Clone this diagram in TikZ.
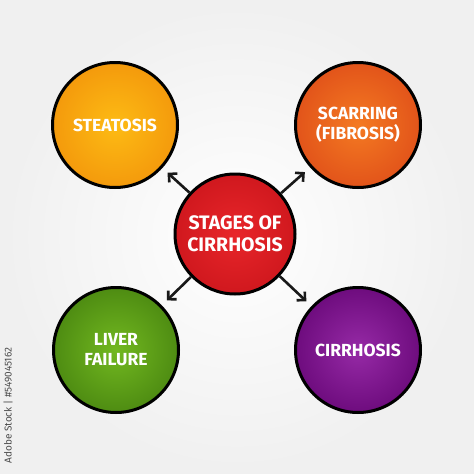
\documentclass[tikz,border=0pt]{standalone}
\usepackage{fontspec}
\setmainfont{Fira Sans}
\usepackage{tikz}
\usetikzlibrary{arrows.meta}
\definecolor{steatin}{HTML}{FDBB14}
\definecolor{steatout}{HTML}{F49A0C}
\definecolor{scarin}{HTML}{F47A22}
\definecolor{scarout}{HTML}{E2541A}
\definecolor{ctrin}{HTML}{E8262A}
\definecolor{ctrout}{HTML}{D0181E}
\definecolor{failin}{HTML}{72B820}
\definecolor{failout}{HTML}{4E8C12}
\definecolor{cirrin}{HTML}{962AA6}
\definecolor{cirrout}{HTML}{6E0C7E}
\tikzstyle{stage}=[circle,draw=black,line width=3pt,inner sep=0pt,align=center,text=white,font=\bfseries\fontsize{17.5}{20}\selectfont]
\tikzstyle{edge}=[draw,line width=2.6pt,black!90,-{Straight Barb[length=6pt,width=12pt]},shorten >=7pt]

\begin{document}
\begin{tikzpicture}[x=1pt,y=-1pt]

 \useasboundingbox (0,0) rectangle (474,474);
 \shade[inner color=white, outer color=black!6] (0,0) rectangle (474,474);

 % center
 \node[stage,minimum size=120pt,shade,inner color=ctrin,outer color=ctrout,font=\bfseries\fontsize{19.5}{22}\selectfont] (ctr) at (235,234) {STAGES OF\\CIRRHOSIS};

 % stages
 \foreach \x/\y/\name/\cin/\cout/\label in {115/125/steat/steatin/steatout/STEATOSIS,
     358/125/scar/scarin/scarout/{SCARRING\\(FIBROSIS)},
     116/350/fail/failin/failout/{LIVER\\FAILURE},
     358/350/cirr/cirrin/cirrout/CIRRHOSIS}
   \node[stage,minimum size=125pt,shade,inner color=\cin,outer color=\cout] (\name) at (\x,\y) {\label};

 \foreach \dest in {steat,scar,fail,cirr}
   \path[edge] (ctr) -- (\dest);

 \node[rotate=90,anchor=west,text=black!70,font=\fontsize{10}{12}\selectfont] (stock) at (8,467) {Adobe Stock | \#549045162};

\end{tikzpicture}
\end{document}
